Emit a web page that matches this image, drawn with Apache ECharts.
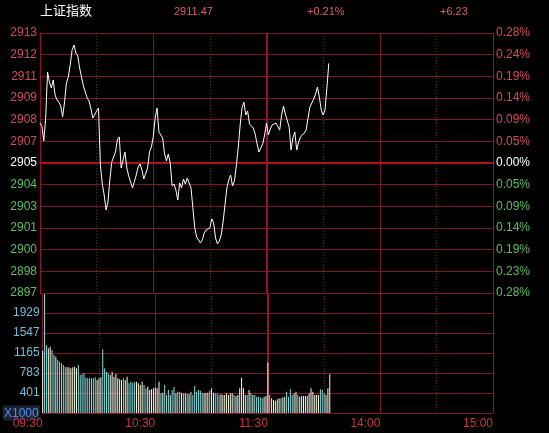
<!DOCTYPE html>
<html><head><meta charset="utf-8">
<script src="https://cdn.jsdelivr.net/npm/echarts@6/dist/echarts.min.js"></script>
<style>html,body{margin:0;padding:0;background:#000;}#c{width:549px;height:433px;}</style>
</head><body><div id="c"></div>
<script>
const indexName = '上证指数';
const baseClose = 2905.24;
const maxDev = 8.13;
const priceTickLabels = ['2897','2898','2900','2901','2903','2904','2905','2907','2908','2909','2911','2912','2913'];
const pctTickLabels = ['0.28%','0.23%','0.19%','0.14%','0.09%','0.05%','0.00%','0.05%','0.09%','0.14%','0.19%','0.24%','0.28%'];
const volTickLabels = ['X1000','401','783','1165','1547','1929',''];
const volMin = 19, volMax = 2311;
const timeLabels = ['09:30','','10:30','','11:30','','14:00','','15:00'];
const prices = [
2907.74,2907.55,2906.62,2908.05,2910.93,2910.30,2909.93,2910.43,2909.49,2909.18,
2909.05,2908.80,2908.12,2909.05,2910.24,2910.62,2911.37,2912.31,2912.62,2912.12,
2911.93,2911.18,2910.62,2910.05,2909.68,2909.30,2909.12,2908.62,2908.05,2908.05,
2908.49,2908.68,2905.11,2903.93,2903.24,2902.30,2902.80,2904.18,2905.30,2905.30,
2905.93,2906.68,2906.87,2904.93,2905.05,2905.93,2904.93,2904.43,2904.05,2903.68,
2903.80,2904.49,2904.99,2905.18,2904.80,2904.24,2904.24,2904.93,2905.93,2906.24,
2906.87,2908.05,2908.68,2907.18,2907.30,2906.80,2905.80,2905.37,2905.80,2905.24,
2903.80,2903.93,2903.55,2902.93,2903.99,2903.68,2904.24,2903.93,2904.30,2903.99,
2903.68,2902.43,2901.18,2900.61,2900.43,2900.24,2900.43,2900.86,2901.05,2900.93,
2901.18,2901.74,2901.49,2900.55,2900.18,2900.36,2900.74,2901.55,2902.61,2903.68,
2904.18,2904.49,2903.80,2904.11,2905.05,2906.18,2907.55,2908.68,2909.05,2908.24,
2908.49,2907.68,2907.68,2907.43,2907.05,2906.43,2905.93,2905.87,2906.43,2906.99,
2907.74,2906.99,2907.37,2907.62,2907.62,2907.74,2907.80,2907.30,2908.24,2908.80,
2908.30,2908.24,2907.49,2906.05,2906.80,2907.18,2906.05,2906.55,2906.87,2906.99,
2907.12,2907.30,2908.05,2908.74,2908.80,2909.24,2909.55,2909.99,2909.37,2908.55,
2908.24,2908.55,2909.93,2911.47
];
const volumes = [
1209,2290,1318,1254,1286,1222,1127,1095,1031,999,
968,936,904,891,891,872,891,904,872,936,
745,758,777,694,681,681,681,681,700,649,
681,700,1235,872,808,777,745,808,713,764,
681,662,649,681,649,713,586,617,598,617,
617,586,554,617,554,490,522,458,471,490,
509,490,617,395,407,554,363,458,363,458,
522,395,427,427,407,395,395,382,382,427,
363,535,427,458,446,407,395,407,407,446,
490,407,395,395,363,382,363,363,395,363,
395,395,363,344,363,490,694,490,363,363,
458,395,363,363,331,331,318,299,331,344,
980,363,299,267,255,280,299,299,318,331,
427,331,471,363,395,427,363,331,344,344,
344,344,395,490,427,363,363,363,471,458,
395,363,490,758
];

const gridRed = '#7a1826';
const dotColor = '#5e2a32';
const edgeRed = '#941626';
const font = 'Liberation Sans';
const upRed = '#d24a62', downGreen = '#5fbf5f';

const lastPrice = prices[prices.length - 1];
const change = lastPrice - baseClose;
const sign = change >= 0 ? '+' : '-';
const headerTexts = [lastPrice.toFixed(2), sign + Math.abs(change / baseClose * 100).toFixed(2) + '%', sign + Math.abs(change).toFixed(2)];

const chart = echarts.init(document.getElementById('c'), null, {renderer: 'canvas'});
const xBase = {type: 'value', min: 0, max: 240, axisLine: {show: false}, axisTick: {show: false}};
const vLines = (withBase) => ({silent: true, symbol: 'none', label: {show: false}, z: 1,
  data: [
    {xAxis: 120, lineStyle: {color: edgeRed, width: 2, type: 'solid'}},
    {xAxis: 0, lineStyle: {color: edgeRed, width: 1, type: 'solid'}},
    {xAxis: 240, lineStyle: {color: edgeRed, width: 1, type: 'solid'}}
  ].concat(withBase ? [{yAxis: baseClose, lineStyle: {color: '#b3101c', width: 2, type: 'solid'}}] : [
    {yAxis: volMin, lineStyle: {color: gridRed, width: 1, type: 'solid'}}])});
chart.setOption({
  backgroundColor: '#000',
  animation: false,
  graphic: [
    {type: 'text', left: 40, top: 4, style: {text: indexName, fill: '#ffffff', font: '13px "Noto Sans CJK SC"'}},
    {type: 'text', left: 174, top: 6, style: {text: headerTexts[0], fill: '#e05a6e', font: '11px "' + font + '"'}},
    {type: 'text', left: 307, top: 6, style: {text: headerTexts[1], fill: '#e05a6e', font: '11px "' + font + '"'}},
    {type: 'text', left: 440, top: 6, style: {text: headerTexts[2], fill: '#e05a6e', font: '11px "' + font + '"'}}
  ],
  grid: [
    {left: 40, right: 56, top: 33, height: 260},
    {left: 40, right: 56, top: 293, height: 120}
  ],
  xAxis: [
    Object.assign({}, xBase, {gridIndex: 0, interval: 30, axisLabel: {show: false}, splitLine: {lineStyle: {color: dotColor, type: [1, 2], width: 1}}}),
    Object.assign({}, xBase, {gridIndex: 0, interval: 60, axisLabel: {show: false}, splitLine: {lineStyle: {color: gridRed, width: 1}}}),
    Object.assign({}, xBase, {gridIndex: 1, interval: 30, splitLine: {lineStyle: {color: dotColor, type: [1, 2], width: 1}},
      axisLabel: {show: true, margin: 5, align: 'right', color: '#c83444', fontFamily: font, fontSize: 12,
        formatter: v => timeLabels[Math.round(v / 30)] || ''}}),
    Object.assign({}, xBase, {gridIndex: 1, interval: 60, axisLabel: {show: false}, splitLine: {lineStyle: {color: gridRed, width: 1}}})
  ],
  yAxis: [
    {gridIndex: 0, type: 'value', min: 0, max: 12, interval: 1, position: 'left',
      axisLine: {show: false}, axisTick: {show: false},
      splitLine: {lineStyle: {color: gridRed, width: 1}},
      axisLabel: {margin: 3, fontFamily: font, fontSize: 12,
        formatter: v => priceTickLabels[v],
        color: (v) => v > 6 ? upRed : (v < 6 ? downGreen : '#ffffff')}},
    {gridIndex: 0, type: 'value', min: 0, max: 12, interval: 1, position: 'right',
      axisLine: {show: false}, axisTick: {show: false}, splitLine: {show: false},
      axisLabel: {margin: 3, fontFamily: font, fontSize: 12,
        formatter: v => pctTickLabels[v],
        color: (v) => v > 6 ? upRed : (v < 6 ? downGreen : '#ffffff')}},
    {gridIndex: 0, type: 'value', min: baseClose - maxDev, max: baseClose + maxDev, show: false},
    {gridIndex: 1, type: 'value', min: 0, max: 6, interval: 1, position: 'left',
      axisLine: {show: false}, axisTick: {show: false},
      splitLine: {lineStyle: {color: gridRed, width: 1}},
      axisLabel: {margin: 3, fontFamily: font, fontSize: 12,
        formatter: (v) => v === 0 ? '{box|' + volTickLabels[0] + '}' : '{v|' + volTickLabels[v] + '}',
        rich: {
          box: {color: '#4f8ef0', backgroundColor: '#1c2434', fontFamily: font, fontSize: 12, padding: [2, 1, 1, 1]},
          v: {color: '#74bcd8', fontFamily: font, fontSize: 12}
        }}},
    {gridIndex: 1, type: 'value', min: volMin, max: volMax, show: false}
  ],
  series: [
    {type: 'line', xAxisIndex: 0, yAxisIndex: 2, z: 1, data: [], markLine: vLines(true)},
    {type: 'line', xAxisIndex: 0, yAxisIndex: 2, z: 3, showSymbol: false, symbol: 'none',
      data: prices.map((p, i) => [i, p]),
      lineStyle: {color: '#ffffff', width: 1}},
    {type: 'line', xAxisIndex: 2, yAxisIndex: 4, z: 1, data: [], markLine: vLines(false)},
    {type: 'bar', xAxisIndex: 2, yAxisIndex: 4, z: 3, barWidth: 1, clip: true,
      data: volumes.map((v, i) => ({value: [i, v], itemStyle: {color: (i > 0 && prices[i] < prices[i - 1]) ? '#86dcdc' : '#fbfbe4'}}))}
  ]
});
</script></body></html>
